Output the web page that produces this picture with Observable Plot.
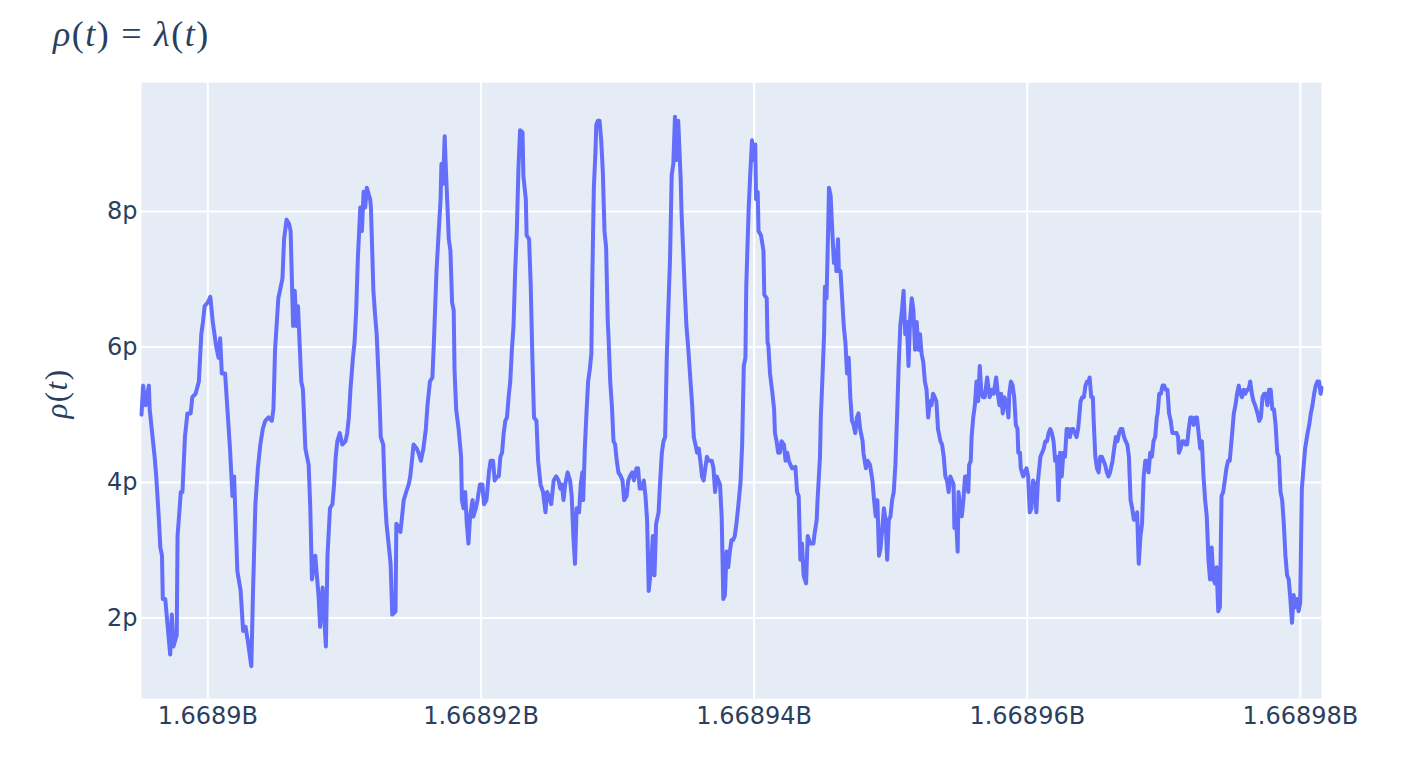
<!DOCTYPE html>
<html><head><meta charset="utf-8">
<script src="https://cdn.jsdelivr.net/npm/d3@7"></script>
<script src="https://cdn.jsdelivr.net/npm/@observablehq/plot@0.6"></script>
<style>
body{margin:0;background:#fff;}
#title{height:70px;box-sizing:border-box;padding:16px 0 0 53px;font-family:"Liberation Serif",serif;font-size:36px;line-height:36px;color:#2a3f5f;white-space:nowrap;letter-spacing:1.5px;}
#title i{font-style:italic;}
#title .eq{margin:0 11px;}
</style></head><body>
<div id="title"><i>ρ</i>(<i>t</i>)<span class="eq">=</span><i>λ</i>(<i>t</i>)</div>
<div id="chart"></div>
<script>
const startTime = 1668895142; // seconds, left edge of the data
const minutes = [0,2,5,9,10,13,16,18,21,23,25,26,29,32,35,37,39,43,44,48,50,53,56,60,62,66,70,73,75,77,81,84,87,91,94,96,98,102,108,111,113,117,121,124,127,130,134,136,139,142,145,148,151,155,159,161,163,167,172,174,177,180,182,185,187,189,191,195,197,200,204,206,208,212,216,218,221,225,227,230,
233,235,237,239,242,245,249,251,253,255,258,260,262,264,267,269,271,273,275,279,280,282,283,285,287,290,292,295,297,299,302,304,306,310,311,314,316,318,320,323,326,328,330,332,336,338,341,344,347,349,352,355,357,360,363,365,366,368,370,371,373,375,377,379,381,382,384,387,390,391,393,395,397,399,401,404,405,408,410,413,416,418,421,424,426,429,431,434,436,438,440,442,444,446,448,450,452,454,456,458,460,462,465,466,469,470,473,475,477,479,482,484,487,
490,493,495,497,500,503,506,509,511,513,515,517,520,523,525,527,529,531,534,536,538,539,541,543,545,547,549,550,552,554,555,557,559,561,563,565,567,569,570,572,574,576,578,580,582,585,587,589,592,594,596,599,601,604,606,608,611,613,615,617,619,622,624,626,628,631,633,635,637,639,641,643,645,647,649,651,653,655,657,658,659,661,663,665,667,670,672,674,676,678,680,682,684,686,688,690,692,696,698,700,702,704,706,708,710,712,714,716,718,720,722,724,726,728,731,
733,735,737,738,741,743,745,747,749,750,752,753,756,759,760,763,764,765,767,770,772,773,775,777,779,781,784,786,788,790,792,794,798,800,802,804,806,808,811,813,816,820,821,824,825,828,829,831,833,834,836,838,839,841,843,845,847,848,850,851,853,855,857,859,861,863,865,867,869,871,873,875,877,880,881,884,886,889,892,894,896,898,900,902,904,906,908,910,912,914,916,918,920,922,924,926,928,930,932,934,936,938,940,942,944,946,948,950,952,954,956,958,960,962,964,966,968,970,972,975,
977,979,981,983,985,987,989,991,992,994,996,997,999,1001,1003,1005,1007,1009,1010,1012,1013,1015,1017,1019,1021,1023,1025,1027,1029,1032,1035,1038,1040,1043,1045,1047,1049,1051,1053,1056,1058,1059,1061,1063,1065,1067,1069,1070,1072,1073,1076,1078,1080,1082,1084,1086,1088,1090,1092,1094,1097,1099,1101,1103,1105,1107,1109,1111,1113,1115,1117,1119,1121,1123,1125,1127,1129,1131,1133,1135,1137,1139,1141,1143,1146,1148,1150,1152,1154,1156,1157,1159,1161,1162,1164,1166,1168,1170,1172,1174,1176,1178,1180,1182,1185,1187,1189,1191,1193,1195,1197,1199,1201,1203,1205,1207,1209,1211,1213,1215,1217,1219,
1221,1223,1225,1227,1229,1231,1233,1235,1237,1239,1240,1242,1244,1246,1248,1250,1252,1254,1256,1258,1260,1263,1265,1266,1268,1270,1272,1274,1276,1278,1280,1282,1284,1286,1288,1290,1292,1294,1296,1298,1300,1302,1304,1306,1308,1310,1312,1314,1316,1318,1320,1322,1324,1326,1328,1331,1333,1335,1337,1339,1341,1343,1345,1347,1349,1351,1353,1355,1357,1359,1362,1364,1366,1368,1370,1372,1374,1376,1378,1380,1382,1384,1386,1388,1390,1392,1394,1396,1398,1400,1402,1404,1406,1408,1410,1412,1414,1416,1418,1420,1423,1425,1427,1429,1431,1433,1435,1437,1439,1440];
const rhoPico = [5.0,5.43,5.14,5.43,5.08,4.73,4.38,4.09,3.5,3.04,2.92,2.28,2.28,1.87,1.46,2.05,1.58,1.75,3.21,3.86,3.86,4.67,5.02,5.02,5.26,5.31,5.49,6.19,6.37,6.6,6.66,6.74,6.37,6.02,5.84,6.13,5.61,5.61,4.5,3.8,4.09,2.69,2.4,1.81,1.87,1.64,1.29,2.34,3.68,4.21,4.56,4.79,4.91,4.96,4.91,5.08,5.96,6.72,7.01,7.59,7.88,7.82,7.71,6.31,6.83,6.31,6.6,5.49,5.37,4.5,4.26,3.62,2.57,2.92,2.34,1.87,2.45,1.58,2.92,3.62,
3.68,3.97,4.38,4.61,4.73,4.56,4.61,4.73,4.96,5.37,5.84,6.07,6.54,7.3,8.06,7.71,8.29,8.06,8.35,8.18,8.06,7.24,6.83,6.48,6.19,5.37,4.67,4.56,3.8,3.39,3.04,2.8,2.05,2.1,3.39,3.33,3.27,3.5,3.74,3.86,3.97,4.09,4.32,4.56,4.5,4.44,4.32,4.5,4.79,5.14,5.49,5.55,6.13,7.12,7.77,8.18,8.7,8.41,9.11,8.76,8.18,7.59,7.42,6.66,6.54,5.66,5.08,4.79,4.38,3.74,3.62,3.86,3.39,3.1,3.5,3.74,3.5,3.62,3.74,3.97,3.97,3.68,3.74,4.15,4.32,4.32,4.03,4.09,4.09,4.38,4.44,4.73,4.91,4.96,5.26,5.49,5.96,6.31,7.12,7.71,8.64,9.2,9.17,8.53,8.18,7.65,7.59,6.9,5.84,4.96,4.91,4.32,3.97,
3.86,3.56,3.86,3.8,3.68,4.03,4.09,4.03,3.91,3.97,3.74,3.97,4.15,4.03,3.8,3.21,2.8,3.62,3.56,3.97,4.15,3.74,4.5,5.02,5.49,5.66,5.9,6.89,8.35,8.88,9.28,9.34,9.34,9.05,8.58,7.71,7.47,6.37,6.13,5.49,5.14,4.61,4.56,4.32,4.15,4.09,4.03,3.74,3.8,4.03,4.09,4.15,4.03,4.21,4.21,3.91,3.91,4.03,3.8,3.45,2.4,2.75,3.21,2.63,3.39,3.56,4.03,4.44,4.61,4.67,5.84,6.6,7.3,8.53,8.7,9.4,8.76,9.34,8.76,8.47,8.0,7.42,6.83,6.31,6.02,5.49,5.14,4.67,4.56,4.44,4.5,4.32,4.09,4.03,4.21,4.38,4.32,4.32,4.21,3.86,4.09,4.03,3.97,3.5,2.28,2.34,2.98,2.75,2.98,3.15,3.15,3.21,3.39,3.62,4.0,
4.56,5.72,5.84,6.89,8.06,8.58,9.05,8.76,8.99,8.18,8.29,7.71,7.65,7.42,6.77,6.72,6.07,6.02,5.61,5.31,5.08,4.73,4.61,4.44,4.44,4.61,4.56,4.32,4.44,4.32,4.26,4.21,4.23,3.86,3.8,2.86,3.1,2.63,2.51,3.21,3.1,3.1,3.21,3.45,3.74,4.38,4.96,5.55,6.19,6.89,6.72,7.77,8.35,8.23,7.71,7.24,7.42,7.12,7.59,7.12,7.12,6.72,6.31,6.07,5.61,5.84,5.26,4.91,4.85,4.73,4.96,5.02,4.79,4.61,4.44,4.21,4.32,4.26,4.03,3.74,3.5,3.74,2.92,3.04,3.33,3.62,3.45,2.86,3.45,3.5,3.74,3.86,4.26,4.96,5.72,6.31,6.54,6.83,6.19,6.37,5.72,6.42,6.72,6.54,5.96,6.37,5.96,6.19,5.9,5.78,5.49,5.37,4.96,5.2,5.14,5.31,5.26,5.2,4.79,4.61,
4.56,4.38,4.09,4.03,3.86,4.09,4.03,3.97,3.33,3.5,2.98,3.86,3.62,3.5,3.74,4.09,4.09,3.86,4.26,4.32,4.67,4.96,5.14,5.49,5.2,5.72,5.31,5.26,5.26,5.55,5.26,5.37,5.31,5.55,5.31,5.14,5.31,5.02,5.26,5.14,4.96,5.31,5.49,5.43,5.26,4.85,4.79,4.44,4.44,4.21,4.09,4.15,4.21,4.09,3.56,3.62,4.03,3.97,3.56,4.03,4.38,4.44,4.5,4.61,4.61,4.73,4.79,4.73,4.61,4.32,4.38,3.74,4.44,4.09,4.44,4.38,4.79,4.79,4.67,4.79,4.79,4.73,4.67,4.79,5.2,5.26,5.26,5.43,5.49,5.49,5.55,5.26,5.26,4.91,4.38,4.21,4.15,4.38,4.38,4.32,4.26,4.15,4.09,4.15,4.32,4.5,4.67,4.61,4.73,4.79,4.79,4.67,4.61,4.56,4.38,3.74,3.62,3.45,3.45,3.56,2.8,3.2,
3.39,4.09,4.32,4.32,4.15,4.44,4.38,4.61,4.67,4.96,5.02,5.31,5.31,5.43,5.43,5.37,5.37,5.02,4.91,4.73,4.73,4.73,4.67,4.44,4.5,4.61,4.61,4.56,4.56,4.79,4.96,4.96,4.85,4.96,4.96,4.73,4.5,4.61,4.09,3.74,3.5,2.86,2.57,3.04,2.57,2.51,2.75,2.1,2.16,3.8,3.86,4.03,4.21,4.32,4.32,4.73,5.02,5.14,5.31,5.43,5.31,5.26,5.37,5.31,5.37,5.37,5.49,5.31,5.2,5.14,5.02,4.91,4.96,5.26,5.31,5.31,5.14,5.37,5.37,5.08,5.08,4.85,4.44,4.38,3.86,3.74,3.39,2.92,2.63,2.57,2.28,1.93,2.34,2.16,2.28,2.1,2.22,3.91,4.21,4.5,4.73,4.85,5.02,5.14,5.31,5.43,5.49,5.49,5.31,5.4];
const xTicks = [1668900000, 1668920000, 1668940000, 1668960000, 1668980000];
const yTicks = [2e-12, 4e-12, 6e-12, 8e-12];
const xDomain = [startTime, startTime + 1440 * 60];
const yDomain = [0.812e-12, 9.904e-12];

const data = minutes.map((m, i) => ({time: startTime + m * 60, rho: rhoPico[i] * 1e-12}));
const fmtS = d3.format("~s");

const plot = Plot.plot({
  width: 1408,
  height: 688,
  marginTop: 12,
  marginBottom: 60,
  marginLeft: 141,
  marginRight: 87,
  style: {fontFamily: "'DejaVu Sans', Verdana, sans-serif", fontSize: "24px", color: "#2a3f5f", background: "#fff", overflow: "visible"},
  x: {type: "linear", domain: xDomain},
  y: {type: "linear", domain: yDomain},
  marks: [
    Plot.frame({fill: "#E5ECF6", stroke: "none"}),
    Plot.gridX(xTicks, {stroke: "#fff", strokeOpacity: 1, strokeWidth: 2}),
    Plot.gridY(yTicks, {stroke: "#fff", strokeOpacity: 1, strokeWidth: 2}),
    Plot.axisX(xTicks, {tickSize: 0, tickPadding: 8, tickFormat: d => fmtS(d).replace("G", "B"), label: null}),
    Plot.axisY(yTicks, {tickSize: 0, tickPadding: 4, tickFormat: fmtS, label: null}),
    Plot.line(data, {x: "time", y: "rho", stroke: "#636EFA", strokeWidth: 4}),
    Plot.text(["ρ(t)"], {frameAnchor: "left", textAnchor: "middle", dx: -84, dy: 3, rotate: -90, fontSize: 31, fontFamily: "Liberation Serif", fill: "#2a3f5f"})
  ]
});
document.getElementById("chart").appendChild(plot);

// style the y label like math: italic variables, upright parentheses
d3.select(plot).selectAll("text").each(function() {
  if (this.textContent === "ρ(t)") {
    const t = d3.select(this);
    t.text(null).style("letter-spacing", "1.5px");
    t.append("tspan").attr("font-style", "italic").text("ρ");
    t.append("tspan").text("(");
    t.append("tspan").attr("font-style", "italic").text("t");
    t.append("tspan").text(")");
  }
});
</script>
</body></html>
